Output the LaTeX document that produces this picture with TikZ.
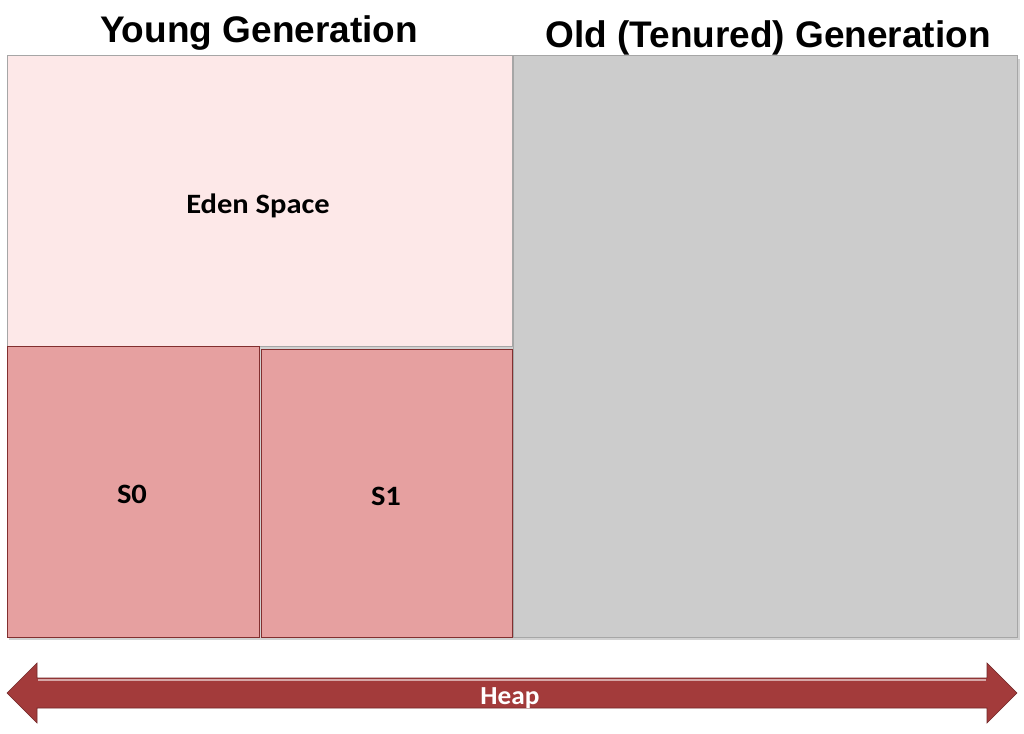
\documentclass[tikz,border=0pt]{standalone}
\usepackage{fontspec}
\setmainfont{Liberation Sans}
\newfontfamily\calfont{Carlito}
\definecolor{edenfill}{HTML}{FDE8E8}
\definecolor{survfill}{HTML}{E6A0A0}
\definecolor{oldfill}{HTML}{CCCCCC}
\definecolor{heapred}{HTML}{A33B3B}

\begin{document}
\begin{tikzpicture}[x=1pt,y=1pt,yscale=-1,xscale=1]
            \useasboundingbox (0,0) rectangle (1024,733);
            % shadows
            \fill [black!18]  (9,59) rectangle (1020,640) ;
            % spaces
            \draw [draw=black!35, fill=edenfill, line width=1pt]  (7,56) rectangle (512,346) ;
            \draw [draw=heapred!80!black, fill=survfill, line width=1pt]  (7,346) rectangle (259,637) ;
            \draw [draw=heapred!80!black, fill=survfill, line width=1pt]  (261,349) rectangle (512,637) ;
            \draw [draw=black!35, fill=oldfill, line width=1pt]  (513,56) rectangle (1017,637) ;
            % heap arrow
            \draw [draw=heapred!70!black, fill=heapred, line width=0.6pt]  (7,693) -- (37,663) -- (37,678) -- (987,678) -- (987,663) -- (1017,693) -- (987,723) -- (987,708) -- (37,708) -- (37,723) -- cycle ;
            \draw [draw=heapred!45!white, line width=1.2pt]  (38,680) -- (986,680) ;
            \draw (259,43) node [anchor=base, inner sep=0pt] (young) {\fontsize{37}{42}\selectfont\bfseries Young Generation};
            \draw (768,48) node [anchor=base, inner sep=0pt] (old) {\fontsize{37}{42}\selectfont\bfseries Old (Tenured) Generation};
            \draw (258,213) node [anchor=base, inner sep=0pt, xscale=1.09] (eden) {\calfont\fontsize{28}{32}\selectfont\bfseries Eden Space};
            \draw (132,503) node [anchor=base, inner sep=0pt, xscale=1.09] (s0) {\calfont\fontsize{28}{32}\selectfont\bfseries S0};
            \draw (386,505) node [anchor=base, inner sep=0pt, xscale=1.09] (s1) {\calfont\fontsize{28}{32}\selectfont\bfseries S1};
            \draw (510,704) node [anchor=base, inner sep=0pt, xscale=1.05, text=white] (heap) {\calfont\fontsize{26}{28}\selectfont\bfseries Heap};
        \end{tikzpicture}
\end{document}
